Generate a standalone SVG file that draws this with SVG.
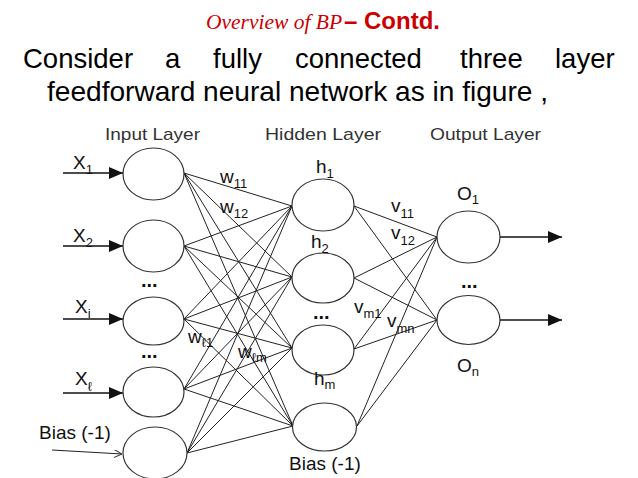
<svg xmlns="http://www.w3.org/2000/svg" width="638" height="478" viewBox="0 0 638 478">
<style>
.node{fill:#fff;stroke:#333;stroke-width:1.2}
.ln{stroke:#222;stroke-width:1;fill:none}
.arr{stroke:#111;stroke-width:1.5;fill:none}
.lbl{font-family:"Liberation Sans",Arial,sans-serif;font-size:19px;fill:#111}
.sub{font-size:13px}
.hdr{font-family:"Liberation Sans",Arial,sans-serif;font-size:17px;fill:#333}
.body{font-family:"Liberation Sans",Arial,sans-serif;font-size:27.5px;fill:#000}
.dots{font-family:"Liberation Sans",Arial,sans-serif;font-size:20px;font-weight:bold;fill:#111}
</style>
<defs>
<marker id="fa" viewBox="0 0 14 12" refX="14" refY="6" markerWidth="14" markerHeight="12" markerUnits="userSpaceOnUse" orient="auto"><path d="M0,0 L14,6 L0,12 z" fill="#111"/></marker>
<marker id="oa" viewBox="0 0 8 8" refX="8" refY="4" markerWidth="8" markerHeight="8" markerUnits="userSpaceOnUse" orient="auto"><path d="M0,0 L8,4 L0,8" fill="none" stroke="#333" stroke-width="1"/></marker>
</defs>
<rect width="638" height="478" fill="#fff"/>

<g id="title">
<text x="206" y="29" fill="#cc0000"><tspan font-family="'Liberation Serif',serif" font-style="italic" font-size="21.5">Overview of BP</tspan><tspan x="344" font-family="'Liberation Sans',Arial,sans-serif" font-weight="bold" font-size="24">– Contd.</tspan></text>
</g>
<g id="intro" class="body">
<text y="68"><tspan x="23">Consider</tspan><tspan x="165">a</tspan><tspan x="213">fully</tspan><tspan x="295">connected</tspan><tspan x="460">three</tspan><tspan x="555">layer</tspan></text>
<text x="47" y="101" textLength="501" lengthAdjust="spacingAndGlyphs">feedforward neural network as in figure ,</text>
</g>
<g id="headers" class="hdr">
<text x="105" y="140" textLength="95" lengthAdjust="spacingAndGlyphs">Input Layer</text>
<text x="265" y="140" textLength="116" lengthAdjust="spacingAndGlyphs">Hidden Layer</text>
<text x="430" y="140" textLength="111" lengthAdjust="spacingAndGlyphs">Output Layer</text>
</g>

<g id="connectors" class="ln">
<!-- input arrows -->
<line class="arr" x1="63" y1="173" x2="123" y2="173" marker-end="url(#fa)"/>
<line class="arr" x1="63" y1="246" x2="123" y2="246" marker-end="url(#fa)"/>
<line class="arr" x1="63" y1="319" x2="123" y2="319" marker-end="url(#fa)"/>
<line class="arr" x1="63" y1="393" x2="123" y2="393" marker-end="url(#fa)"/>
<line x1="52" y1="450" x2="122" y2="454" marker-end="url(#oa)"/>
<!-- input to hidden -->
<path d="M184,173 L292,206 M184,173 L292,277 M184,173 L292,348 M184,173 L293,426"/>
<path d="M184,246 L292,206 M184,246 L292,277 M184,246 L292,348 M184,246 L293,426"/>
<path d="M184,319 L292,206 M184,319 L292,277 M184,319 L292,348 M184,319 L293,426"/>
<path d="M184,389 L292,206 M184,389 L292,277 M184,389 L292,348 M184,389 L293,426"/>
<path d="M187,453 L292,206 M187,453 L292,277 M187,453 L292,348 M187,453 L293,426"/>
<!-- hidden to output -->
<path d="M354,206 L437,237 M354,206 L437,320"/>
<path d="M354,278 L437,237 M354,278 L437,320"/>
<path d="M354,349 L437,237 M354,349 L437,320"/>
<path d="M357,426 L437,237 M357,426 L437,320"/>
<!-- output arrows -->
<line class="arr" x1="500" y1="237" x2="562" y2="237" marker-end="url(#fa)"/>
<line class="arr" x1="500" y1="320" x2="562" y2="320" marker-end="url(#fa)"/>
</g>

<g id="input-layer">
<g id="x1"><ellipse class="node" cx="153.5" cy="174" rx="30.5" ry="26"/><text class="lbl" x="73" y="169">X<tspan class="sub" dy="5">1</tspan></text></g>
<g id="x2"><ellipse class="node" cx="153.5" cy="246" rx="30.5" ry="26"/><text class="lbl" x="73" y="242">X<tspan class="sub" dy="5">2</tspan></text></g>
<text class="dots" x="141" y="287">...</text>
<g id="xi"><ellipse class="node" cx="153.5" cy="321" rx="30.5" ry="24"/><text class="lbl" x="75" y="313">X<tspan class="sub" dy="5">i</tspan></text></g>
<text class="dots" x="141" y="358">...</text>
<g id="xl"><ellipse class="node" cx="153.5" cy="392" rx="30.5" ry="25"/><text class="lbl" x="75" y="385">X<tspan class="sub" dy="6">ℓ</tspan></text></g>
<g id="bias-in"><ellipse class="node" cx="155" cy="453" rx="32" ry="26"/><text class="lbl" x="39" y="439" font-size="20">Bias (-1)</text></g>
</g>

<g id="hidden-layer">
<g id="h1"><ellipse class="node" cx="323" cy="205" rx="31" ry="26"/><text class="lbl" x="316" y="173">h<tspan class="sub" dy="5">1</tspan></text></g>
<g id="h2"><ellipse class="node" cx="323" cy="278" rx="31" ry="25"/><text class="lbl" x="311" y="248">h<tspan class="sub" dy="5">2</tspan></text></g>
<text class="dots" x="313" y="319">...</text>
<g id="hm"><ellipse class="node" cx="323" cy="350" rx="31" ry="25"/><text class="lbl" x="314" y="385">h<tspan class="sub" dy="4">m</tspan></text></g>
<g id="bias-hid"><ellipse class="node" cx="324.5" cy="427" rx="32" ry="24"/><text class="lbl" x="289" y="470" font-size="20">Bias (-1)</text></g>
</g>

<g id="output-layer">
<g id="o1"><ellipse class="node" cx="468.5" cy="237" rx="31.5" ry="26"/><text class="lbl" x="457" y="200">O<tspan class="sub" dy="4">1</tspan></text></g>
<text class="dots" x="461" y="288">...</text>
<g id="on"><ellipse class="node" cx="468.5" cy="320" rx="31.5" ry="24.5"/><text class="lbl" x="457" y="372">O<tspan class="sub" dy="4">n</tspan></text></g>
</g>

<g id="weights" class="lbl">
<text x="220" y="183">w<tspan class="sub" dy="5">11</tspan></text>
<text x="220" y="213">w<tspan class="sub" dy="5">12</tspan></text>
<text x="188" y="343">w<tspan class="sub" dy="4">ℓ1</tspan></text>
<text x="238" y="358">w<tspan class="sub" dy="4">ℓm</tspan></text>
<text x="391" y="212">v<tspan class="sub" dy="6">11</tspan></text>
<text x="391" y="239">v<tspan class="sub" dy="6">12</tspan></text>
<text x="354" y="313">v<tspan class="sub" dy="5">m1</tspan></text>
<text x="387" y="327">v<tspan class="sub" dy="6">mn</tspan></text>
</g>
</svg>
